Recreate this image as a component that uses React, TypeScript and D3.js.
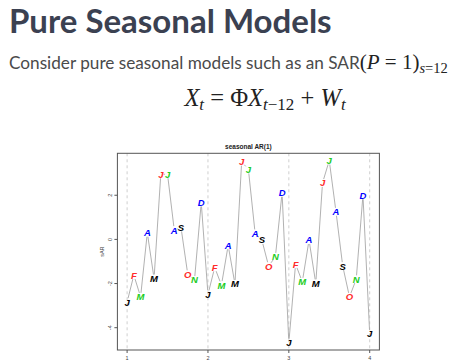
import * as d3 from "d3";

// monthly labels and the plotted seasonal AR(1) series, 1 + (0..36)/12
const monthLetters = ["J", "F", "M", "A", "M", "J", "J", "A", "S", "O", "N", "D"];
const letterColors = ["#000000", "#ff2a2a", "#22cc22", "#0000ff"];
const sAR = [
  -2.84, -1.62, -2.6, 0.3, -1.77, 2.95, 2.95, 0.42, 0.54, -1.58, -1.84, 1.67,
  -2.49, -1.27, -2.07, -0.27, -2.02, 3.52, 3.17, 0.27, -0.03, -1.21, -0.79, 2.11,
  -4.68, -1.12, -1.92, -0.03, -1.99, 2.56, 3.57, 1.25, -1.21, -2.6, -1.81, 2.0,
  -4.28,
];
const xTicks = [1, 2, 3, 4];
const yTicks = [-4, -2, 0, 2];

const W = 476;
const H = 362;
const plot = { left: 117.4, right: 379.4, top: 153.3, bottom: 350 };

const App = () => {
  const times = sAR.map((_, i) => 1 + i / 12);
  const pts = sAR.map((v, i) => ({ t: times[i], v, i }));

  // R style: 4% padding on each side of the data range
  const [t0, t1] = d3.extent(times) as [number, number];
  const [v0, v1] = d3.extent(sAR) as [number, number];
  const xs = d3
    .scaleLinear()
    .domain([t0 - 0.04 * (t1 - t0), t1 + 0.04 * (t1 - t0)])
    .range([plot.left, plot.right]);
  const ys = d3
    .scaleLinear()
    .domain([v0 - 0.04 * (v1 - v0), v1 + 0.04 * (v1 - v0)])
    .range([plot.bottom, plot.top]);

  // type = "c": lines with gaps around the letters
  const gap = 4;
  const seg = d3.line<[number, number]>();
  const segments = d3.pairs(pts).map(([a, b]) => {
    const x1 = xs(a.t), y1 = ys(a.v), x2 = xs(b.t), y2 = ys(b.v);
    const len = Math.hypot(x2 - x1, y2 - y1);
    const ux = (x2 - x1) / len, uy = (y2 - y1) / len;
    return seg([
      [x1 + ux * gap, y1 + uy * gap],
      [x2 - ux * gap, y2 - uy * gap],
    ]);
  });

  const axisCol = "#555";
  const midX = (plot.left + plot.right) / 2;
  const midY = (plot.top + plot.bottom) / 2;

  return (
    <svg
      width={W}
      height={H}
      style={{ position: "absolute", left: 0, top: 0, background: "#fff" }}
    >
      <text x={9} y={32.5} fontFamily="Lato" fontWeight={700} fontSize={33} fill="#3b4151">
        Pure Seasonal Models
      </text>
      <text x={9} y={69} fill="#4a4a4a" fontFamily="Lato" fontSize={17.2}>
        Consider pure seasonal models such as an SAR
        <tspan fontFamily="Liberation Serif" fontSize={21} fill="#222">
          (<tspan fontStyle="italic">P</tspan> = 1)
          <tspan dy={4} fontSize={14.5}>
            <tspan fontStyle="italic">s</tspan>=12
          </tspan>
        </tspan>
      </text>
      <text x={265} y={106} textAnchor="middle" fontFamily="Liberation Serif" fontSize={24.5} fill="#222">
        <tspan fontStyle="italic">X</tspan>
        <tspan dy={4} fontSize={17} fontStyle="italic">t</tspan>
        <tspan dy={-4}> = Φ</tspan>
        <tspan fontStyle="italic">X</tspan>
        <tspan dy={4} fontSize={17}>
          <tspan fontStyle="italic">t</tspan>−12
        </tspan>
        <tspan dy={-4}> + </tspan>
        <tspan fontStyle="italic">W</tspan>
        <tspan dy={4} fontSize={17} fontStyle="italic">t</tspan>
      </text>

      {/* seasonal AR(1) plot */}
      <text x={midX} y={149} textAnchor="middle" fontFamily="Liberation Sans" fontWeight={700} fontSize={6.5} fill="#222">
        seasonal AR(1)
      </text>
      {xTicks.map((t) => (
        <line
          key={"v" + t}
          x1={xs(t)}
          x2={xs(t)}
          y1={plot.top}
          y2={plot.bottom}
          stroke="#cfcfcf"
          strokeWidth={1}
          strokeDasharray="3,3"
        />
      ))}
      {segments.map((d, i) => (
        <path key={"s" + i} d={d ?? ""} fill="none" stroke="#a8a8a8" strokeWidth={0.9} />
      ))}
      {pts.map((p) => (
        <text
          key={"p" + p.i}
          x={xs(p.t)}
          y={ys(p.v)}
          dy="0.36em"
          textAnchor="middle"
          fontFamily="Liberation Sans"
          fontWeight={700}
          fontStyle="italic"
          fontSize={9.5}
          fill={letterColors[p.i % 4]}
        >
          {monthLetters[p.i % 12]}
        </text>
      ))}
      <rect
        x={plot.left}
        y={plot.top}
        width={plot.right - plot.left}
        height={plot.bottom - plot.top}
        fill="none"
        stroke={axisCol}
        strokeWidth={1}
      />
      {xTicks.map((t) => (
        <g key={"x" + t}>
          <line x1={xs(t)} x2={xs(t)} y1={plot.bottom} y2={plot.bottom + 3} stroke={axisCol} />
          <text x={xs(t)} y={360} textAnchor="middle" fontFamily="Liberation Sans" fontSize={5.5} fill="#444">
            {t}
          </text>
        </g>
      ))}
      {yTicks.map((v) => (
        <g key={"y" + v}>
          <line x1={plot.left - 3} x2={plot.left} y1={ys(v)} y2={ys(v)} stroke={axisCol} />
          <text
            transform={`translate(${plot.left - 5},${ys(v)}) rotate(-90)`}
            textAnchor="middle"
            fontFamily="Liberation Sans"
            fontSize={5.5}
            fill="#444"
          >
            {v}
          </text>
        </g>
      ))}
      <text
        transform={`translate(104,${midY}) rotate(-90)`}
        textAnchor="middle"
        fontFamily="Liberation Sans"
        fontSize={5.5}
        fill="#444"
      >
        sAR
      </text>
    </svg>
  );
};

export default App;
